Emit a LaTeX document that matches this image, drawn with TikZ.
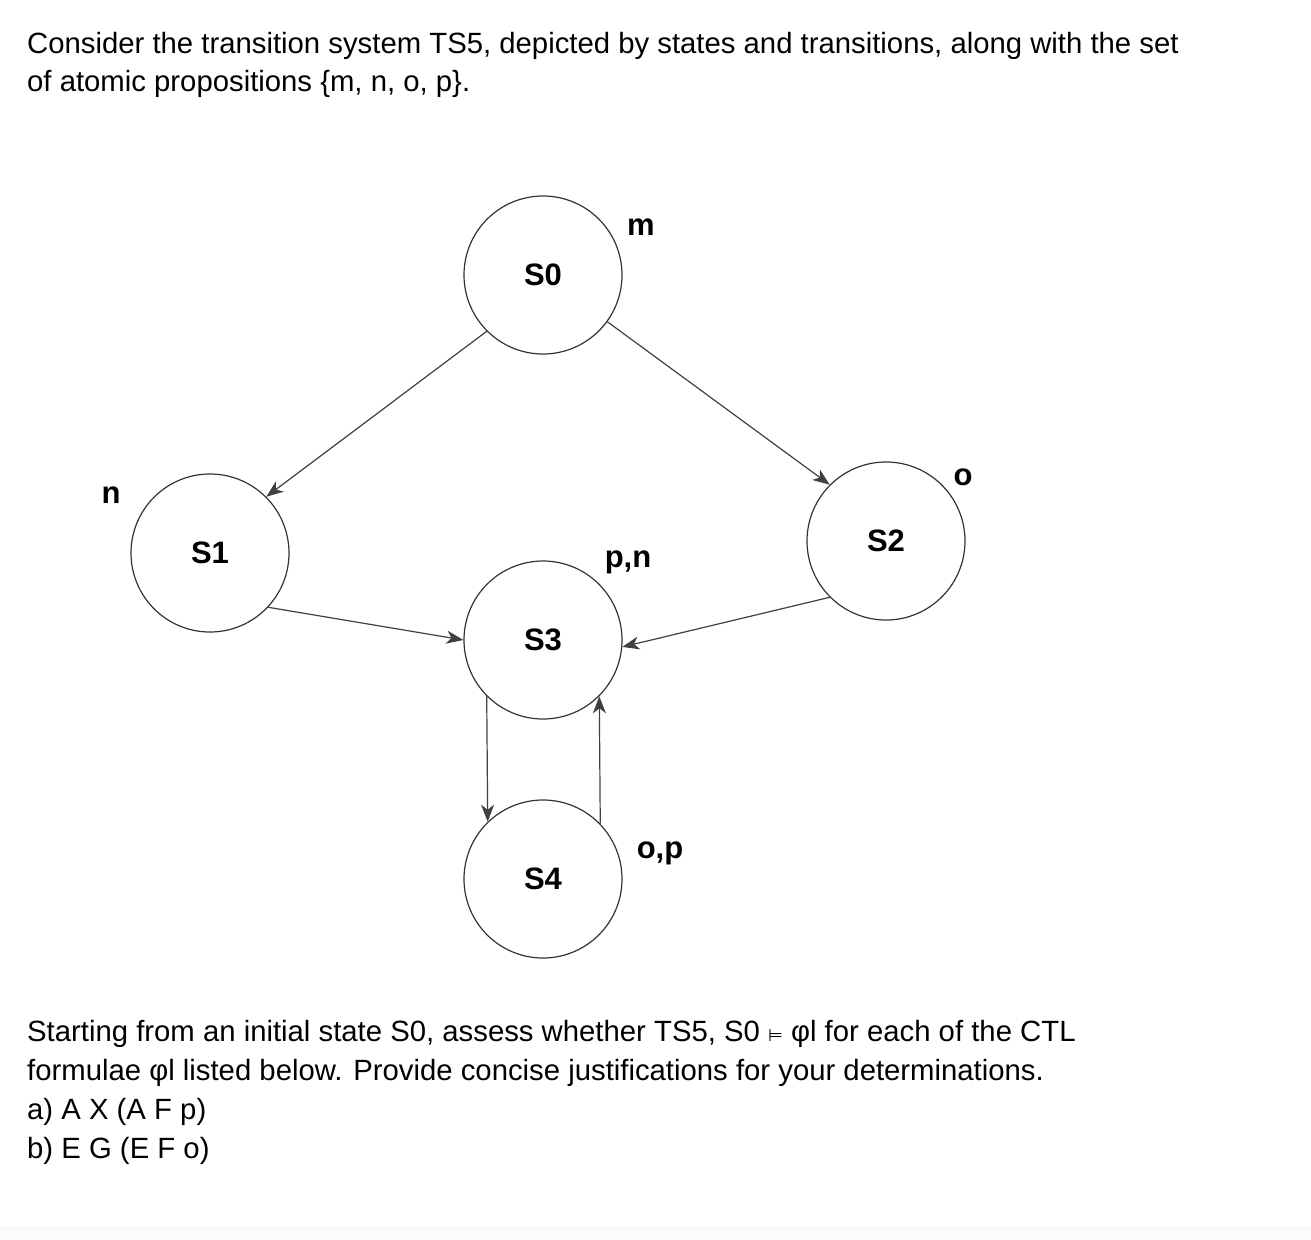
\documentclass[tikz,border=0pt]{standalone}
\usepackage{fontspec}
\setmainfont{Liberation Sans}
\newfontfamily\dvs{DejaVu Sans}
\usetikzlibrary{arrows.meta}
\begin{document}
\begin{tikzpicture}[x=1pt,y=-1pt,
  st/.style={circle,draw=black!80,line width=1.2pt,minimum size=158pt,inner sep=0pt,font=\fontsize{31}{36}\selectfont\bfseries},
  lbl/.style={font=\fontsize{31}{36}\selectfont\bfseries},
  txt/.style={anchor=base west,inner sep=0pt,font=\fontsize{29.3}{34}\selectfont},
  ed/.style={draw=black!75,line width=1.2pt,-{Stealth[length=17pt,width=13pt,inset=5pt]}}]
\useasboundingbox (0,0) rectangle (1311,1239);
\fill[gray!4] (0,1226) rectangle (1311,1239);
\node[txt] (t1) at (27,53) {Consider the transition system TS5, depicted by states and transitions, along with the set};
\node[txt] (t2) at (27,91) {of atomic propositions \{m, n, o, p\}.};
\node[st] (s0) at (543,275) {S0};
\node[st] (s1) at (210,553) {S1};
\node[st] (s2) at (886,541) {S2};
\node[st] (s3) at (543,640) {S3};
\node[st] (s4) at (543,879) {S4};
\node[lbl] (lm) at (641,227) {m};
\node[lbl] (ln) at (111,495) {n};
\node[lbl] (lo) at (963,477) {o};
\node[lbl] (lpn) at (628,562) {p,n};
\node[lbl] (lop) at (660,853) {o,p};
\draw[ed] (s0.-135) -- (s1.45);
\draw[ed] (s0.-36) -- (s2.135);
\draw[ed] (s1.-43) -- (s3.180);
\draw[ed] (s2.-135) -- (s3.-5);
\draw[ed] (s3.-135) -- (s4.134);
\draw[ed] (s4.44) -- (s3.-45);
\node[txt] (b1) at (27,1041) {Starting from an initial state S0, assess whether TS5, S0 {\dvs\fontsize{17}{20}\selectfont ⊨} φl for each of the CTL};
\node[txt] (b2) at (27,1080) {formulae φl listed below. Provide concise justifications for your determinations.};
\node[txt] (b3) at (27,1119) {a) A X (A F p)};
\node[txt] (b4) at (27,1158) {b) E G (E F o)};
\end{tikzpicture}
\end{document}
